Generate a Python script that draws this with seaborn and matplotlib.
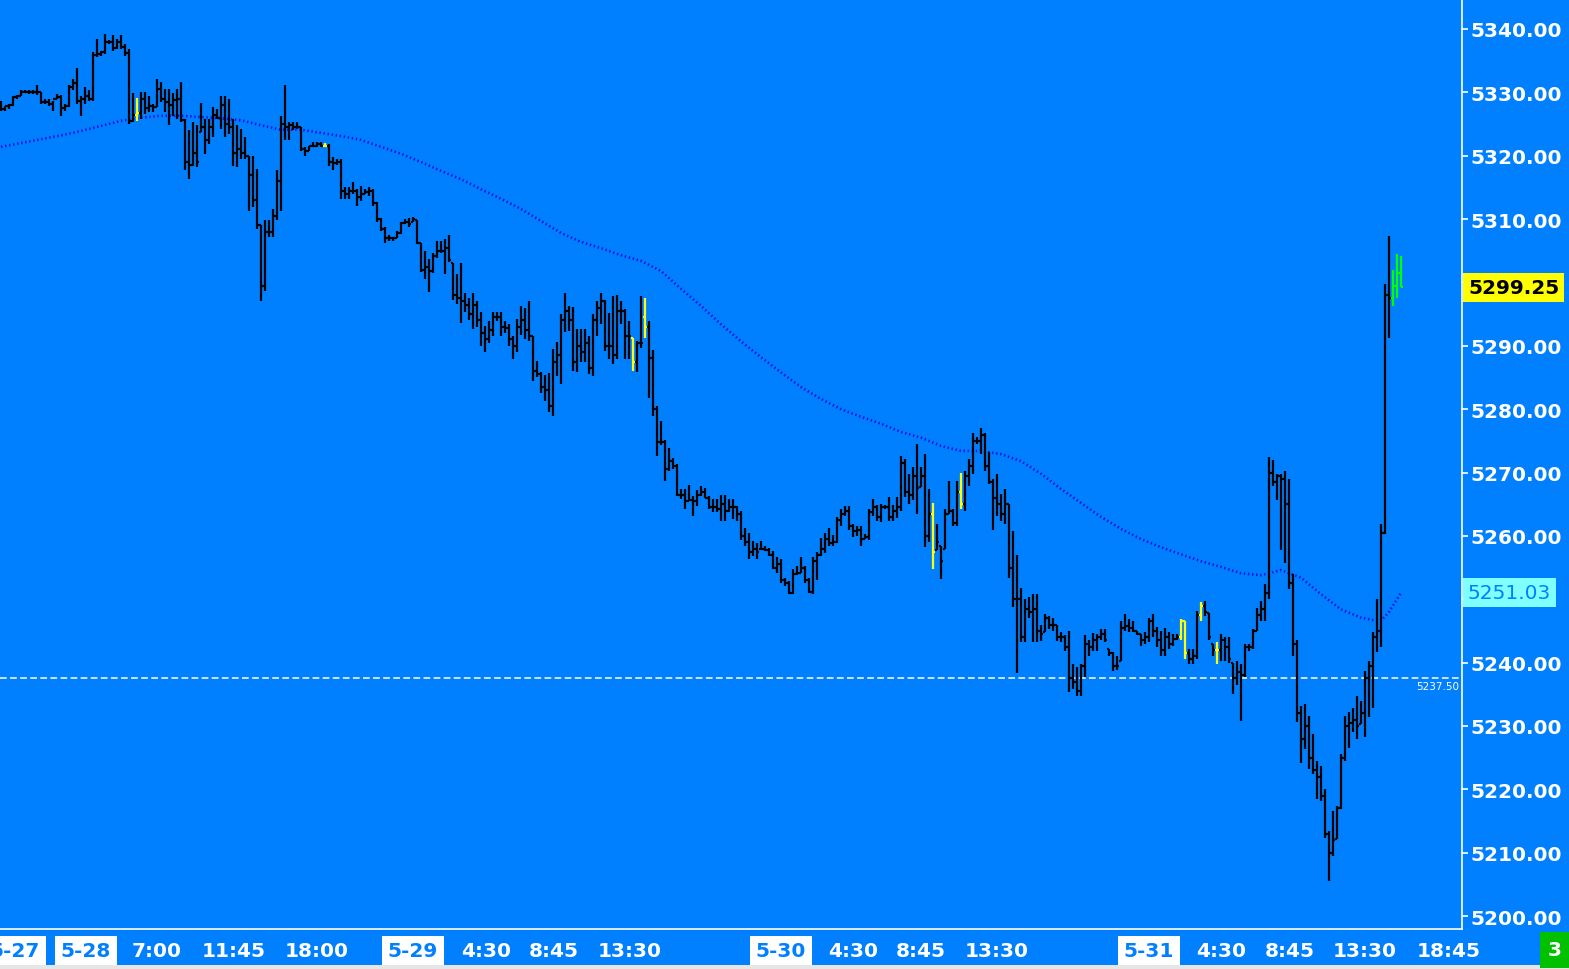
import numpy as np
import pandas as pd
import seaborn as sns
import matplotlib.pyplot as plt
from matplotlib import transforms
from matplotlib.patches import Rectangle

BG = '#0080ff'

# 15-minute ES bars, 5-27 .. 5-31
highs = [
    5328.7, 5327.9, 5328.2, 5329.5, 5329.6, 5330.4, 5330.4, 5330.3, 5330.4, 5331.1,
    5330.1, 5329.0, 5328.9, 5328.7, 5329.8, 5329.6, 5328.2, 5331.1, 5332.1, 5333.8,
    5329.4, 5330.8, 5330.4, 5336.3, 5338.4, 5336.6, 5339.2, 5338.2, 5339.1, 5338.4,
    5339.1, 5337.7, 5336.9, 5329.9, 5329.1, 5330.1, 5330.1, 5329.5, 5328.2, 5332.1,
    5331.6, 5330.5, 5330.5, 5329.9, 5330.5, 5331.6, 5325.8, 5324.0, 5325.3, 5324.8,
    5328.3, 5325.8, 5325.8, 5327.7, 5327.4, 5329.5, 5329.5, 5329.0, 5325.8, 5324.8,
    5324.2, 5322.9, 5320.0, 5320.0, 5317.9, 5309.0, 5309.8, 5309.8, 5311.6, 5317.7,
    5326.3, 5331.1, 5325.3, 5325.3, 5325.3, 5324.5, 5321.3, 5321.6, 5322.1, 5322.1,
    5322.1, 5322.0, 5321.9, 5319.8, 5319.5, 5319.5, 5315.0, 5315.0, 5315.8, 5314.7,
    5315.2, 5314.7, 5315.0, 5314.7, 5312.7, 5310.2, 5308.7, 5307.5, 5307.1, 5308.1,
    5309.6, 5310.0, 5310.2, 5310.4, 5309.9, 5306.3, 5305.0, 5303.7, 5304.7, 5306.6,
    5306.6, 5306.8, 5307.5, 5303.1, 5301.3, 5303.0, 5298.4, 5297.6, 5298.4, 5297.1,
    5295.4, 5293.1, 5293.9, 5295.3, 5295.3, 5295.3, 5293.9, 5293.4, 5291.6, 5294.2,
    5296.3, 5295.9, 5297.1, 5291.6, 5287.6, 5285.8, 5285.4, 5285.7, 5289.5, 5290.6,
    5295.0, 5298.4, 5296.3, 5296.1, 5292.6, 5292.6, 5292.6, 5291.6, 5295.0, 5297.1,
    5298.4, 5297.3, 5295.2, 5297.9, 5298.0, 5297.1, 5295.8, 5293.9, 5291.3, 5290.8,
    5297.9, 5297.6, 5293.9, 5289.4, 5280.5, 5278.1, 5275.2, 5273.9, 5272.3, 5271.3,
    5267.4, 5267.4, 5268.1, 5266.3, 5267.3, 5267.8, 5267.6, 5266.3, 5265.8, 5265.9,
    5266.4, 5266.4, 5265.8, 5265.9, 5264.7, 5263.9, 5261.3, 5260.5, 5259.2, 5258.9,
    5259.2, 5258.4, 5258.1, 5257.6, 5256.6, 5256.4, 5253.4, 5252.9, 5254.8, 5255.2,
    5256.6, 5255.3, 5253.4, 5256.6, 5257.4, 5259.7, 5260.5, 5261.3, 5260.2, 5263.0,
    5264.2, 5264.7, 5264.7, 5261.8, 5261.6, 5261.6, 5260.3, 5264.3, 5265.9, 5264.8,
    5265.1, 5264.8, 5266.1, 5264.8, 5266.1, 5272.6, 5272.1, 5269.8, 5270.8, 5274.5,
    5270.8, 5272.9, 5267.4, 5265.2, 5261.8, 5258.4, 5264.3, 5268.6, 5264.2, 5268.7,
    5269.9, 5270.3, 5272.1, 5276.2, 5275.6, 5277.1, 5276.3, 5273.3, 5268.9, 5269.8,
    5266.6, 5267.4, 5265.1, 5260.8, 5257.0, 5251.8, 5250.0, 5250.3, 5250.8, 5250.8,
    5245.9, 5247.6, 5247.4, 5247.1, 5245.9, 5244.8, 5244.3, 5245.0, 5239.8, 5239.3,
    5239.8, 5244.3, 5243.5, 5244.7, 5244.5, 5245.3, 5245.3, 5242.1, 5241.6, 5241.1,
    5246.5, 5247.7, 5246.9, 5246.5, 5245.0, 5244.5, 5244.8, 5247.0, 5247.7, 5245.6,
    5245.0, 5245.4, 5244.8, 5244.5, 5244.5, 5246.9, 5246.5, 5242.1, 5242.1, 5248.2,
    5249.5, 5249.8, 5247.9, 5242.9, 5243.2, 5244.5, 5244.0, 5244.0, 5240.0, 5240.3,
    5239.8, 5242.9, 5242.9, 5245.3, 5248.6, 5249.8, 5252.4, 5272.4, 5271.9, 5269.8,
    5269.8, 5270.3, 5269.0, 5254.0, 5243.5, 5233.2, 5233.5, 5231.6, 5228.7, 5224.5,
    5223.7, 5220.0, 5213.5, 5216.6, 5217.4, 5225.6, 5231.6, 5232.2, 5232.9, 5234.8,
    5234.0, 5238.7, 5240.3, 5244.8, 5250.0, 5261.9, 5299.8, 5307.4, 5301.9, 5304.5, 5304.2,
]

lows = [
    5327.1, 5327.1, 5327.4, 5327.8, 5329.0, 5329.4, 5329.9, 5329.8, 5329.8, 5329.6,
    5328.2, 5328.2, 5327.9, 5327.1, 5328.9, 5326.3, 5327.0, 5327.7, 5330.3, 5328.2,
    5326.3, 5328.2, 5328.7, 5328.7, 5335.5, 5335.8, 5336.1, 5337.7, 5336.6, 5336.9,
    5336.9, 5335.8, 5325.0, 5325.3, 5325.4, 5325.8, 5326.6, 5326.9, 5326.9, 5327.7,
    5328.4, 5326.9, 5324.8, 5326.3, 5325.8, 5325.3, 5317.7, 5316.3, 5318.4, 5318.2,
    5323.7, 5320.3, 5321.9, 5322.9, 5325.8, 5324.2, 5322.9, 5323.4, 5318.4, 5318.2,
    5319.5, 5319.5, 5311.3, 5311.9, 5308.4, 5297.1, 5298.7, 5307.1, 5307.1, 5309.8,
    5311.3, 5322.4, 5322.4, 5324.0, 5324.2, 5320.8, 5319.9, 5320.8, 5321.3, 5321.3,
    5321.3, 5321.3, 5318.4, 5317.7, 5318.6, 5313.2, 5313.2, 5313.2, 5313.9, 5312.1,
    5312.9, 5313.9, 5313.7, 5312.1, 5309.6, 5308.1, 5306.2, 5306.6, 5306.6, 5307.0,
    5307.6, 5309.2, 5308.7, 5309.5, 5306.0, 5301.6, 5300.6, 5298.5, 5301.5, 5303.9,
    5304.6, 5301.4, 5303.2, 5297.2, 5296.6, 5293.6, 5295.3, 5294.0, 5292.6, 5292.9,
    5290.0, 5289.0, 5290.5, 5291.6, 5293.9, 5291.6, 5292.0, 5290.0, 5287.9, 5289.0,
    5291.7, 5291.0, 5290.8, 5284.5, 5285.0, 5282.6, 5281.3, 5279.6, 5278.9, 5285.2,
    5283.9, 5292.2, 5292.4, 5286.1, 5285.8, 5287.4, 5287.4, 5285.5, 5285.2, 5291.6,
    5293.4, 5289.2, 5287.9, 5287.1, 5287.9, 5293.4, 5287.9, 5287.9, 5286.0, 5285.8,
    5289.7, 5291.3, 5281.8, 5278.9, 5272.6, 5274.4, 5268.7, 5270.2, 5270.5, 5266.3,
    5265.8, 5264.2, 5265.5, 5263.1, 5264.7, 5266.3, 5266.0, 5264.2, 5263.7, 5263.7,
    5262.3, 5262.3, 5263.7, 5262.6, 5262.3, 5259.4, 5258.4, 5256.3, 5256.8, 5256.3,
    5257.9, 5257.6, 5256.8, 5254.7, 5254.2, 5252.6, 5252.1, 5250.8, 5250.8, 5253.9,
    5254.2, 5252.6, 5251.0, 5250.8, 5253.1, 5256.8, 5257.3, 5258.4, 5258.4, 5258.8,
    5261.6, 5263.1, 5261.0, 5259.8, 5260.0, 5258.4, 5259.5, 5259.4, 5263.1, 5262.4,
    5262.2, 5264.3, 5262.4, 5262.4, 5262.8, 5263.9, 5266.2, 5265.0, 5265.7, 5263.4,
    5267.7, 5258.2, 5259.0, 5254.8, 5257.8, 5253.2, 5258.0, 5263.4, 5261.6, 5261.6,
    5264.2, 5263.9, 5267.9, 5269.8, 5274.5, 5272.9, 5270.3, 5268.2, 5260.9, 5263.1,
    5262.4, 5261.8, 5253.4, 5248.7, 5238.4, 5243.2, 5243.2, 5247.1, 5243.2, 5243.2,
    5243.4, 5244.8, 5245.3, 5245.0, 5243.4, 5243.2, 5241.9, 5235.4, 5235.8, 5234.7,
    5234.7, 5237.7, 5241.1, 5241.9, 5241.9, 5243.5, 5243.2, 5241.1, 5238.7, 5238.9,
    5240.3, 5245.0, 5244.8, 5244.8, 5244.3, 5242.7, 5242.9, 5243.2, 5244.0, 5242.4,
    5241.1, 5241.1, 5242.1, 5242.7, 5243.5, 5243.5, 5240.6, 5239.8, 5239.8, 5240.6,
    5246.5, 5247.4, 5243.5, 5241.1, 5239.8, 5240.3, 5240.3, 5240.0, 5235.0, 5236.4,
    5230.8, 5237.7, 5241.9, 5242.1, 5245.0, 5246.6, 5246.6, 5250.0, 5267.9, 5265.6,
    5257.7, 5255.8, 5251.6, 5241.1, 5230.6, 5224.2, 5226.4, 5223.2, 5222.4, 5218.5,
    5218.2, 5212.4, 5205.6, 5209.5, 5212.1, 5216.9, 5224.5, 5226.6, 5229.0, 5227.9,
    5230.3, 5228.2, 5231.4, 5232.9, 5241.6, 5242.4, 5260.3, 5291.3, 5296.3, 5297.6, 5299.2,
]

opens = [
    5328.0, 5327.4, 5327.8, 5328.0, 5329.3, 5329.4, 5330.1, 5330.0, 5330.1, 5330.0,
    5330.0, 5328.5, 5328.4, 5328.2, 5329.0, 5329.2, 5327.5, 5327.8, 5330.8, 5331.5,
    5328.6, 5328.9, 5329.5, 5329.0, 5335.9, 5336.0, 5336.3, 5337.9, 5337.9, 5337.0,
    5338.0, 5337.2, 5336.2, 5325.4, 5326.5, 5326.8, 5329.0, 5327.5, 5327.8, 5327.7,
    5330.5, 5329.0, 5328.5, 5328.0, 5328.8, 5329.0, 5325.6, 5319.0, 5318.5, 5320.5,
    5323.7, 5324.5, 5322.5, 5324.5, 5326.5, 5326.0, 5328.0, 5325.0, 5324.5, 5320.5,
    5321.0, 5320.5, 5320.0, 5317.0, 5313.0, 5309.0, 5299.5, 5308.0, 5308.0, 5310.5,
    5316.0, 5325.0, 5324.5, 5324.8, 5324.5, 5324.5, 5321.0, 5320.8, 5321.5, 5321.6,
    5321.8, 5321.6, 5321.5, 5319.0, 5318.8, 5319.0, 5314.5, 5314.0, 5314.5, 5314.5,
    5313.5, 5314.0, 5314.2, 5314.5, 5312.5, 5310.0, 5308.5, 5307.0, 5307.0, 5307.0,
    5307.8, 5309.4, 5309.6, 5309.5, 5309.9, 5306.3, 5302.0, 5302.5, 5301.8, 5304.2,
    5305.0, 5305.0, 5305.5, 5303.1, 5298.0, 5297.5, 5297.0, 5296.5, 5295.0, 5296.5,
    5294.0, 5292.0, 5291.0, 5292.5, 5294.5, 5294.5, 5293.0, 5292.8, 5291.0, 5290.0,
    5293.0, 5294.0, 5292.5, 5291.5, 5286.0, 5285.5, 5283.5, 5283.0, 5280.5, 5287.5,
    5288.5, 5294.0, 5295.5, 5294.0, 5287.5, 5290.0, 5289.0, 5290.5, 5286.5, 5294.0,
    5296.0, 5297.0, 5290.0, 5290.0, 5288.5, 5295.5, 5295.5, 5291.5, 5291.3, 5287.5,
    5290.5, 5294.5, 5293.0, 5288.0, 5280.0, 5274.8, 5274.8, 5270.5, 5271.8, 5271.0,
    5266.5, 5266.5, 5265.5, 5265.6, 5265.5, 5266.5, 5267.0, 5266.0, 5264.5, 5264.5,
    5264.2, 5265.0, 5264.0, 5264.5, 5264.5, 5263.5, 5260.0, 5259.0, 5257.5, 5258.0,
    5257.9, 5258.0, 5257.8, 5257.0, 5255.0, 5255.5, 5253.0, 5252.5, 5251.0, 5254.0,
    5254.2, 5255.0, 5253.0, 5251.2, 5256.0, 5257.0, 5258.0, 5259.5, 5258.8, 5259.0,
    5262.5, 5263.5, 5264.0, 5261.5, 5260.8, 5261.0, 5259.5, 5259.8, 5263.8, 5264.5,
    5263.0, 5264.5, 5264.5, 5263.0, 5264.0, 5264.5, 5271.5, 5267.0, 5266.5, 5269.5,
    5267.7, 5269.5, 5260.0, 5263.5, 5257.8, 5258.4, 5258.0, 5263.5, 5264.0, 5262.0,
    5267.0, 5265.0, 5269.5, 5271.0, 5275.0, 5275.0, 5276.0, 5271.0, 5268.5, 5266.0,
    5265.0, 5263.5, 5265.0, 5255.0, 5250.0, 5250.0, 5244.0, 5248.5, 5248.0, 5248.5,
    5245.0, 5244.8, 5247.0, 5246.0, 5245.9, 5244.0, 5244.0, 5242.5, 5237.5, 5237.0,
    5235.5, 5239.5, 5243.0, 5242.5, 5243.5, 5244.0, 5244.5, 5242.1, 5241.5, 5239.5,
    5240.3, 5245.5, 5245.8, 5245.5, 5245.0, 5244.5, 5243.5, 5244.0, 5246.5, 5245.0,
    5243.5, 5242.0, 5244.0, 5243.0, 5243.8, 5244.0, 5246.5, 5241.5, 5240.5, 5241.0,
    5247.5, 5249.0, 5247.9, 5242.9, 5242.0, 5242.0, 5243.5, 5242.5, 5240.0, 5237.5,
    5238.5, 5238.0, 5242.5, 5242.5, 5245.0, 5247.5, 5248.5, 5251.0, 5270.0, 5268.5,
    5269.5, 5269.0, 5265.0, 5252.5, 5243.0, 5232.0, 5228.0, 5230.0, 5225.0, 5223.0,
    5222.0, 5219.0, 5213.0, 5210.0, 5212.1, 5217.0, 5225.0, 5230.0, 5230.5, 5231.0,
    5230.3, 5232.0, 5237.5, 5239.5, 5244.0, 5245.0, 5260.5, 5298.0, 5297.6, 5299.5, 5301.5,
]

closes = [
    5327.4, 5327.8, 5328.0, 5329.3, 5329.4, 5330.1, 5330.0, 5330.1, 5330.0, 5330.0,
    5328.5, 5328.4, 5328.2, 5329.0, 5329.2, 5327.5, 5327.8, 5330.8, 5331.5, 5328.6,
    5328.9, 5329.5, 5329.0, 5335.9, 5336.0, 5336.3, 5337.9, 5337.9, 5337.0, 5338.0,
    5337.2, 5336.2, 5325.4, 5326.5, 5326.8, 5329.0, 5327.5, 5327.8, 5327.7, 5330.5,
    5329.0, 5328.5, 5328.0, 5328.8, 5329.0, 5325.6, 5319.0, 5318.5, 5320.5, 5319.0,
    5324.5, 5322.5, 5324.5, 5326.5, 5326.0, 5328.0, 5325.0, 5324.5, 5320.5, 5321.0,
    5320.5, 5320.0, 5317.0, 5313.0, 5309.0, 5299.5, 5308.0, 5308.0, 5310.5, 5316.0,
    5325.0, 5324.5, 5324.8, 5324.5, 5324.6, 5321.0, 5320.8, 5321.5, 5321.6, 5321.8,
    5321.6, 5321.5, 5319.0, 5318.8, 5319.0, 5314.5, 5314.0, 5314.5, 5314.5, 5313.5,
    5314.0, 5314.2, 5314.5, 5312.5, 5310.0, 5308.5, 5307.0, 5307.0, 5307.0, 5307.8,
    5309.4, 5309.6, 5309.3, 5310.0, 5306.3, 5302.0, 5302.5, 5301.8, 5304.2, 5305.0,
    5305.0, 5305.5, 5303.5, 5298.0, 5297.5, 5297.0, 5296.5, 5295.0, 5296.5, 5294.0,
    5292.0, 5291.0, 5292.5, 5294.5, 5294.5, 5293.0, 5292.8, 5291.0, 5290.0, 5293.0,
    5294.0, 5292.5, 5291.5, 5286.0, 5285.5, 5283.5, 5283.0, 5280.5, 5287.5, 5288.5,
    5294.0, 5295.5, 5294.0, 5287.5, 5290.0, 5289.0, 5290.5, 5286.5, 5294.0, 5296.0,
    5297.0, 5290.0, 5290.0, 5288.5, 5295.5, 5295.5, 5291.5, 5291.5, 5287.5, 5290.5,
    5290.5, 5293.0, 5288.0, 5280.0, 5274.8, 5274.8, 5270.5, 5271.8, 5271.0, 5266.5,
    5266.5, 5265.5, 5265.6, 5265.5, 5266.5, 5267.0, 5266.0, 5264.5, 5264.5, 5264.2,
    5265.0, 5264.0, 5264.5, 5264.5, 5263.5, 5260.0, 5259.0, 5257.5, 5258.0, 5257.5,
    5258.0, 5257.8, 5257.0, 5255.0, 5255.5, 5253.0, 5252.5, 5251.0, 5254.0, 5254.2,
    5255.0, 5253.0, 5251.2, 5256.0, 5257.0, 5258.0, 5259.5, 5258.8, 5259.0, 5262.5,
    5263.5, 5264.0, 5261.5, 5260.8, 5261.0, 5259.5, 5259.8, 5263.8, 5264.5, 5263.0,
    5264.5, 5264.5, 5263.0, 5264.0, 5264.5, 5271.5, 5267.0, 5266.5, 5269.5, 5267.5,
    5269.5, 5260.0, 5263.5, 5257.5, 5259.0, 5256.0, 5263.5, 5264.0, 5262.0, 5267.0,
    5265.0, 5269.5, 5271.0, 5275.0, 5275.0, 5276.0, 5271.0, 5268.5, 5266.0, 5265.0,
    5263.5, 5265.0, 5255.0, 5250.0, 5250.0, 5244.0, 5248.5, 5248.0, 5248.5, 5245.0,
    5244.5, 5247.0, 5246.0, 5246.0, 5244.0, 5244.0, 5242.5, 5237.5, 5237.0, 5235.5,
    5239.5, 5243.0, 5242.5, 5243.5, 5244.0, 5244.5, 5243.5, 5241.5, 5239.5, 5239.5,
    5245.5, 5245.8, 5245.5, 5245.0, 5244.5, 5243.5, 5244.0, 5246.5, 5245.0, 5243.5,
    5242.0, 5244.0, 5243.0, 5243.8, 5244.0, 5246.5, 5241.5, 5240.5, 5241.0, 5247.5,
    5249.0, 5248.0, 5244.0, 5242.0, 5242.0, 5243.5, 5242.5, 5240.5, 5237.5, 5238.5,
    5238.0, 5242.5, 5242.5, 5245.0, 5247.5, 5248.5, 5251.0, 5270.0, 5268.5, 5269.5,
    5269.0, 5265.0, 5252.5, 5243.0, 5232.0, 5228.0, 5230.0, 5225.0, 5223.0, 5222.0,
    5219.0, 5213.0, 5210.0, 5212.0, 5217.0, 5225.0, 5230.0, 5230.5, 5231.0, 5230.0,
    5232.0, 5237.5, 5239.5, 5244.0, 5245.0, 5260.5, 5298.0, 5297.6, 5299.5, 5301.5, 5299.25,
]

yellow_bars = [34, 81, 158, 161, 233, 240, 295, 296, 300, 304]
green_bars = [348, 349, 350]

# moving average (dotted line), read at every 5th bar
ma_bar = [0, 5, 10, 15, 20, 25, 30, 35, 40, 45, 50, 55, 60, 65, 70, 75, 80, 85, 90, 95,
          100, 105, 110, 115, 120, 125, 130, 135, 140, 145, 150, 155, 160, 165, 170, 175,
          180, 185, 190, 195, 200, 205, 210, 215, 220, 225, 230, 235, 240, 245, 250, 255,
          260, 265, 270, 275, 280, 285, 290, 295, 300, 305, 310, 315, 320, 325, 330, 335,
          340, 343, 345, 347, 350]
ma_val = [5321.4, 5322.0, 5322.6, 5323.2, 5323.9, 5324.7, 5325.5, 5326.0, 5326.3, 5326.3,
          5326.1, 5325.9, 5325.6, 5324.8, 5324.1, 5324.1, 5323.6, 5323.1, 5322.5, 5321.4,
          5320.3, 5319.0, 5317.6, 5316.3, 5314.7, 5313.2, 5311.6, 5309.7, 5307.8, 5306.4,
          5305.4, 5304.3, 5303.4, 5301.8, 5299.0, 5296.3, 5293.4, 5290.7, 5288.2, 5285.8,
          5283.5, 5281.6, 5280.0, 5278.8, 5277.7, 5276.4, 5275.5, 5274.2, 5273.4, 5273.4,
          5272.9, 5271.8, 5269.8, 5267.4, 5265.2, 5263.0, 5261.1, 5259.5, 5258.2, 5257.1,
          5256.0, 5255.1, 5254.1, 5253.8, 5254.6, 5253.4, 5250.8, 5248.4, 5247.1, 5246.7,
          5246.6, 5248.0, 5251.03]

ref_line = 5237.50
last_price = 5299.25
ma_last = 5251.03

tick_pos = [3.5, 21.25, 39, 58.25, 79, 103, 121.25, 138.25, 157.25, 195, 213, 230, 249,
            287, 305, 322.25, 341, 362]
tick_lab = ['5-27', '5-28', '7:00', '11:45', '18:00', '5-29', '4:30', '8:45', '13:30',
            '5-30', '4:30', '8:45', '13:30', '5-31', '4:30', '8:45', '13:30', '18:45']

bars = pd.DataFrame({'open': opens, 'high': highs, 'low': lows, 'close': closes})
bars['color'] = 'black'
bars.loc[yellow_bars, 'color'] = '#ffff00'
bars.loc[green_bars, 'color'] = '#00ff00'
x = np.arange(len(bars))

sns.set_style('white')
plt.rcParams['font.family'] = ['DejaVu Sans']

fig = plt.figure(figsize=(15.69, 9.70), dpi=100, facecolor=BG)
ax = fig.add_axes([0, 40 / 970, 1462 / 1569, 930 / 970])
ax.set_facecolor(BG)

# OHLC bars
lw = 1.6
ax.vlines(x, bars['low'], bars['high'], colors=bars['color'], linewidth=lw, zorder=3)
ax.hlines(bars['open'], x - 0.55, x, colors=bars['color'], linewidth=lw, zorder=3)
ax.hlines(bars['close'], x, x + 0.55, colors=bars['color'], linewidth=lw, zorder=3)

# moving average
sns.lineplot(x=ma_bar, y=ma_val, ax=ax, color='#1010f0', linewidth=1.9,
             linestyle=(0, (0.55, 1.0)), dash_capstyle='butt', zorder=2)

# reference level
ax.axhline(ref_line, color='white', linewidth=1.1, linestyle=(0, (4.4, 2.2)), zorder=2)
ax.text(0.998, ref_line - 0.4, f'{ref_line:.2f}', transform=transforms.blended_transform_factory(
    ax.transAxes, ax.transData), ha='right', va='top', color='white', fontsize=7.5)

ax.set_xlim(-0.25, 365.25)
ax.set_ylim(5197.96, 5344.73)

# right price axis
ax.yaxis.tick_right()
yt = np.arange(5200, 5341, 10)
ax.set_yticks(yt)
ax.set_yticklabels(['' if v in (5250, 5300) else f'{v:.2f}' for v in yt])
ax.tick_params(axis='y', colors='white', labelsize=14.5, length=4, width=1.2, pad=2,
               direction='out')
for lab in ax.get_yticklabels():
    lab.set_fontweight('bold')

# time axis
ax.set_xticks(tick_pos)
ax.set_xticklabels(tick_lab)
ax.tick_params(axis='x', colors='white', labelsize=14.5, length=4, width=1.2, pad=5,
               direction='out')
for lab in ax.get_xticklabels():
    lab.set_fontweight('bold')
    if '-' in lab.get_text():
        lab.set_color(BG)
        lab.set_bbox(dict(boxstyle='square,pad=0.28', facecolor='white', edgecolor='none'))

for side in ['left', 'top']:
    ax.spines[side].set_visible(False)
for side in ['right', 'bottom']:
    ax.spines[side].set_color('white')
    ax.spines[side].set_linewidth(1.2)

# last price / MA value boxes on the price axis
yblend = transforms.blended_transform_factory(ax.transAxes, ax.transData)
ax.text(1.0041, last_price, f'{last_price:.2f}', transform=yblend, ha='left', va='center',
        fontsize=14.5, fontweight='bold', color='black', clip_on=False,
        bbox=dict(boxstyle='square,pad=0.25', facecolor='#ffff00', edgecolor='none'))
ax.text(1.0041, ma_last, f'{ma_last:.2f}', transform=yblend, ha='left', va='center',
        fontsize=14.5, color=BG, clip_on=False,
        bbox=dict(boxstyle='square,pad=0.25', facecolor='#80ffff', edgecolor='none'))

fig.text(1555 / 1569, 19 / 970, '3', ha='center', va='center', fontsize=14.5,
         fontweight='bold', color='white',
         bbox=dict(boxstyle='square,pad=0.4', facecolor='#00c000', edgecolor='none'))
fig.patches.append(Rectangle((0, 0), 1, 4 / 970, transform=fig.transFigure,
                             facecolor='#e6e6e6', edgecolor='none'))

fig.savefig('out.png', dpi=100, facecolor=BG)
